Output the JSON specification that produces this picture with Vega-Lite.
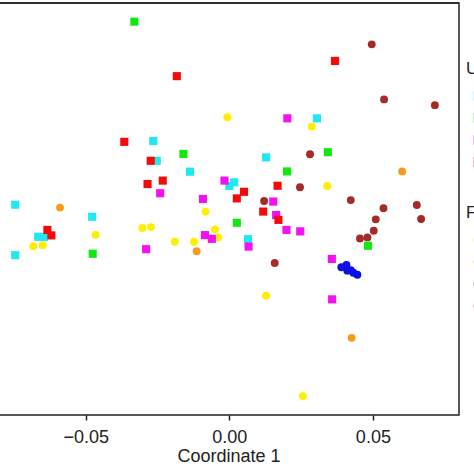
{
  "$schema": "https://vega.github.io/schema/vega-lite/v6.json",
  "description": "MDS scatter, Coordinate 1 vs Coordinate 2",
  "width": 461,
  "height": 412,
  "autosize": {"type": "none"},
  "padding": {"left": -2, "top": 3, "right": 15, "bottom": 52},
  "background": "white",
  "datasets": {
    "u": [
      {"c1": -0.0265, "c2": 0.0237, "group": "U1"},
      {"c1": -0.0253, "c2": 0.0168, "group": "U1"},
      {"c1": -0.0137, "c2": 0.0130, "group": "U1"},
      {"c1": 0.0000, "c2": 0.0080, "group": "U1"},
      {"c1": 0.0017, "c2": 0.0093, "group": "U1"},
      {"c1": 0.0128, "c2": 0.0180, "group": "U1"},
      {"c1": 0.0305, "c2": 0.0316, "group": "U1"},
      {"c1": -0.0746, "c2": 0.0015, "group": "U1"},
      {"c1": -0.0478, "c2": -0.0027, "group": "U1"},
      {"c1": -0.0666, "c2": -0.0097, "group": "U1"},
      {"c1": -0.0646, "c2": -0.0097, "group": "U1"},
      {"c1": -0.0746, "c2": -0.0161, "group": "U1"},
      {"c1": 0.0065, "c2": -0.0105, "group": "U1"},
      {"c1": -0.0331, "c2": 0.0653, "group": "U2"},
      {"c1": -0.0160, "c2": 0.0192, "group": "U2"},
      {"c1": 0.0026, "c2": -0.0048, "group": "U2"},
      {"c1": -0.0476, "c2": -0.0156, "group": "U2"},
      {"c1": 0.0201, "c2": 0.0131, "group": "U2"},
      {"c1": 0.0343, "c2": 0.0198, "group": "U2"},
      {"c1": 0.0483, "c2": -0.0128, "group": "U2"},
      {"c1": -0.0241, "c2": 0.0055, "group": "U3"},
      {"c1": -0.0017, "c2": 0.0099, "group": "U3"},
      {"c1": -0.0092, "c2": 0.0035, "group": "U3"},
      {"c1": -0.0290, "c2": -0.0140, "group": "U3"},
      {"c1": -0.0085, "c2": -0.0091, "group": "U3"},
      {"c1": -0.0061, "c2": -0.0104, "group": "U3"},
      {"c1": 0.0067, "c2": -0.0131, "group": "U3"},
      {"c1": 0.0153, "c2": 0.0026, "group": "U3"},
      {"c1": 0.0163, "c2": -0.0021, "group": "U3"},
      {"c1": 0.0199, "c2": -0.0073, "group": "U3"},
      {"c1": 0.0247, "c2": -0.0078, "group": "U3"},
      {"c1": 0.0202, "c2": 0.0316, "group": "U3"},
      {"c1": 0.0357, "c2": -0.0174, "group": "U3"},
      {"c1": 0.0358, "c2": -0.0315, "group": "U3"},
      {"c1": -0.0183, "c2": 0.0463, "group": "U4"},
      {"c1": 0.0368, "c2": 0.0516, "group": "U4"},
      {"c1": -0.0366, "c2": 0.0234, "group": "U4"},
      {"c1": -0.0274, "c2": 0.0168, "group": "U4"},
      {"c1": -0.0285, "c2": 0.0087, "group": "U4"},
      {"c1": -0.0232, "c2": 0.0099, "group": "U4"},
      {"c1": 0.0051, "c2": 0.0060, "group": "U4"},
      {"c1": 0.0026, "c2": 0.0037, "group": "U4"},
      {"c1": 0.0168, "c2": 0.0081, "group": "U4"},
      {"c1": 0.0118, "c2": -0.0009, "group": "U4"},
      {"c1": 0.0171, "c2": -0.0038, "group": "U4"},
      {"c1": -0.0634, "c2": -0.0073, "group": "U4"},
      {"c1": -0.0620, "c2": -0.0092, "group": "U4"}
    ],
    "f": [
      {"c1": -0.0007, "c2": 0.0320, "group": "F1"},
      {"c1": 0.0287, "c2": 0.0287, "group": "F1"},
      {"c1": 0.0341, "c2": 0.0080, "group": "F1"},
      {"c1": -0.0083, "c2": -0.0009, "group": "F1"},
      {"c1": -0.0466, "c2": -0.0090, "group": "F1"},
      {"c1": -0.0303, "c2": -0.0066, "group": "F1"},
      {"c1": -0.0273, "c2": -0.0063, "group": "F1"},
      {"c1": -0.0050, "c2": -0.0071, "group": "F1"},
      {"c1": -0.0039, "c2": -0.0099, "group": "F1"},
      {"c1": -0.0683, "c2": -0.0130, "group": "F1"},
      {"c1": -0.0650, "c2": -0.0126, "group": "F1"},
      {"c1": -0.0190, "c2": -0.0114, "group": "F1"},
      {"c1": -0.0123, "c2": -0.0114, "group": "F1"},
      {"c1": 0.0128, "c2": -0.0302, "group": "F1"},
      {"c1": 0.0256, "c2": -0.0652, "group": "F1"},
      {"c1": -0.0590, "c2": 0.0005, "group": "F2"},
      {"c1": -0.0114, "c2": -0.0147, "group": "F2"},
      {"c1": 0.0602, "c2": 0.0131, "group": "F2"},
      {"c1": 0.0426, "c2": -0.0449, "group": "F2"},
      {"c1": 0.0390, "c2": -0.0203, "group": "F3"},
      {"c1": 0.0408, "c2": -0.0195, "group": "F3"},
      {"c1": 0.0411, "c2": -0.0215, "group": "F3"},
      {"c1": 0.0423, "c2": -0.0213, "group": "F3"},
      {"c1": 0.0432, "c2": -0.0222, "group": "F3"},
      {"c1": 0.0446, "c2": -0.0229, "group": "F3"},
      {"c1": 0.0496, "c2": 0.0574, "group": "F4"},
      {"c1": 0.0539, "c2": 0.0382, "group": "F4"},
      {"c1": 0.0716, "c2": 0.0362, "group": "F4"},
      {"c1": 0.0281, "c2": 0.0191, "group": "F4"},
      {"c1": 0.0246, "c2": 0.0076, "group": "F4"},
      {"c1": 0.0121, "c2": 0.0028, "group": "F4"},
      {"c1": 0.0423, "c2": 0.0031, "group": "F4"},
      {"c1": 0.0537, "c2": 0.0003, "group": "F4"},
      {"c1": 0.0653, "c2": 0.0014, "group": "F4"},
      {"c1": 0.0668, "c2": -0.0035, "group": "F4"},
      {"c1": 0.0510, "c2": -0.0036, "group": "F4"},
      {"c1": 0.0503, "c2": -0.0076, "group": "F4"},
      {"c1": 0.0455, "c2": -0.0103, "group": "F4"},
      {"c1": 0.0481, "c2": -0.0099, "group": "F4"},
      {"c1": 0.0158, "c2": -0.0188, "group": "F4"}
    ]
  },
  "layer": [
    {
      "data": {"name": "f"},
      "mark": {"type": "point", "shape": "circle", "filled": true, "size": 62, "opacity": 1},
      "encoding": {
        "x": {
          "field": "c1",
          "type": "quantitative",
          "scale": {"domain": [-0.0806, 0.08], "nice": false, "zero": false},
          "axis": {
            "orient": "bottom",
            "title": "Coordinate 1",
            "values": [-0.05, 0, 0.05],
            "format": ".2f",
            "grid": false,
            "domain": false,
            "tickColor": "#222222",
            "tickWidth": 1.5,
            "tickSize": 5,
            "labelFontSize": 18,
            "labelColor": "#222222",
            "labelPadding": 8,
            "labelExpr": "replace(datum.label, '-', '\u2212')",
            "titleFontSize": 18,
            "titleFontWeight": "normal",
            "titleColor": "#222222",
            "titlePadding": 1
          }
        },
        "y": {
          "field": "c2",
          "type": "quantitative",
          "scale": {"domain": [-0.0718, 0.0718], "nice": false, "zero": false},
          "axis": null
        },
        "color": {
          "field": "group",
          "type": "nominal",
          "scale": {
            "domain": ["F1", "F2", "F3", "F4"],
            "range": ["#ffee00", "#f59a1c", "#0a10e6", "#a52a2a"]
          },
          "legend": {
            "title": "F",
            "orient": "none",
            "legendX": 468,
            "legendY": 202
          }
        }
      }
    },
    {
      "data": {"name": "u"},
      "mark": {"type": "square", "size": 66, "opacity": 1},
      "encoding": {
        "x": {"field": "c1", "type": "quantitative"},
        "y": {"field": "c2", "type": "quantitative"},
        "color": {
          "field": "group",
          "type": "nominal",
          "scale": {
            "domain": ["U1", "U2", "U3", "U4"],
            "range": ["#1ee8f0", "#10e810", "#f510f0", "#f50a0a"]
          },
          "legend": {
            "title": "U",
            "orient": "none",
            "legendX": 468,
            "legendY": 58
          }
        }
      }
    },
    {
      "data": {"values": [{"edge": "top"}]},
      "mark": {"type": "rule", "color": "#222222", "strokeWidth": 1.5},
      "encoding": {"y": {"datum": 0.0718}}
    }
  ],
  "resolve": {"scale": {"color": "independent"}},
  "config": {
    "font": "Liberation Sans",
    "view": {"stroke": "#222222", "strokeWidth": 1.5},
    "legend": {
      "titleFontSize": 17,
      "titleFontWeight": "normal",
      "titleColor": "#222222",
      "titlePadding": 10,
      "labelFontSize": 16,
      "symbolOpacity": 0.4,
      "symbolStrokeWidth": 0,
      "symbolSize": 90,
      "symbolOffset": 4,
      "rowPadding": 6
    }
  }
}
